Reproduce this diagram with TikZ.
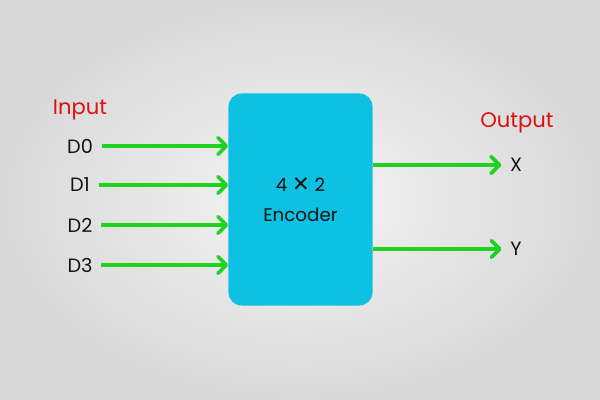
\documentclass[tikz,border=0pt]{standalone}
\usepackage{fontspec}
\setmainfont{Poppins}
\newfontfamily\symfont{DejaVu Sans}
\usetikzlibrary{arrows.meta}
\definecolor{encblue}{HTML}{0EC0E2}
\definecolor{sigreen}{HTML}{1FD21F}
\definecolor{lblred}{HTML}{DD1010}
\definecolor{ink}{HTML}{141414}
\tikzset{
	sig/.style={line width=2.6pt, color=sigreen, -{Straight Barb[length=6pt,width=12pt,round]}},
	lbl/.style={text=ink, font=\fontsize{13.7}{15}\selectfont, inner sep=1pt},
	head/.style={text=lblred, font=\fontsize{15}{17}\selectfont, inner sep=1pt},
	encbox/.style={fill=encblue, rounded corners=0.33cm, minimum width=3.6cm, minimum height=5.3cm, text=ink, align=center, font=\fontsize{13}{21}\selectfont}
}
\begin{document}
\begin{tikzpicture}[x=0.025cm, y=-0.025cm]
			%%%%% START %%%%%
			
			\useasboundingbox (0, 0) rectangle (600, 400);
			\fill[inner color=black!4, outer color=black!15] (0, 0) rectangle (600, 400);
			
			\node[encbox] (enc) at (300.5, 199.5) {4 {\symfont\bfseries\fontsize{15}{15}\selectfont ✕} 2\\Encoder};
			
			\node[head] (in) at (80, 110) {Input};
			\node[head] (out) at (517, 123) {Output};
			
			\node[lbl] (D0) at (80, 146) {D0};
			\node[lbl] (D1) at (80, 185) {D1};
			\node[lbl] (D2) at (80, 225) {D2};
			\node[lbl] (D3) at (80, 265) {D3};
			
			\node[lbl] (X) at (516, 165) {X};
			\node[lbl] (Y) at (516, 249) {Y};
			
			\draw[sig, shorten <=5pt] (D0.east) -- (D0 -| enc.west);
			\draw[sig, shorten <=5pt] (D1.east) -- (D1 -| enc.west);
			\draw[sig, shorten <=5pt] (D2.east) -- (D2 -| enc.west);
			\draw[sig, shorten <=5pt] (D3.east) -- (D3 -| enc.west);
			
			\draw[sig, shorten >=5pt] (enc.east |- X) -- (X.west);
			\draw[sig, shorten >=5pt] (enc.east |- Y) -- (Y.west);
			
			%%%%% END %%%%%
\end{tikzpicture}
\end{document}
